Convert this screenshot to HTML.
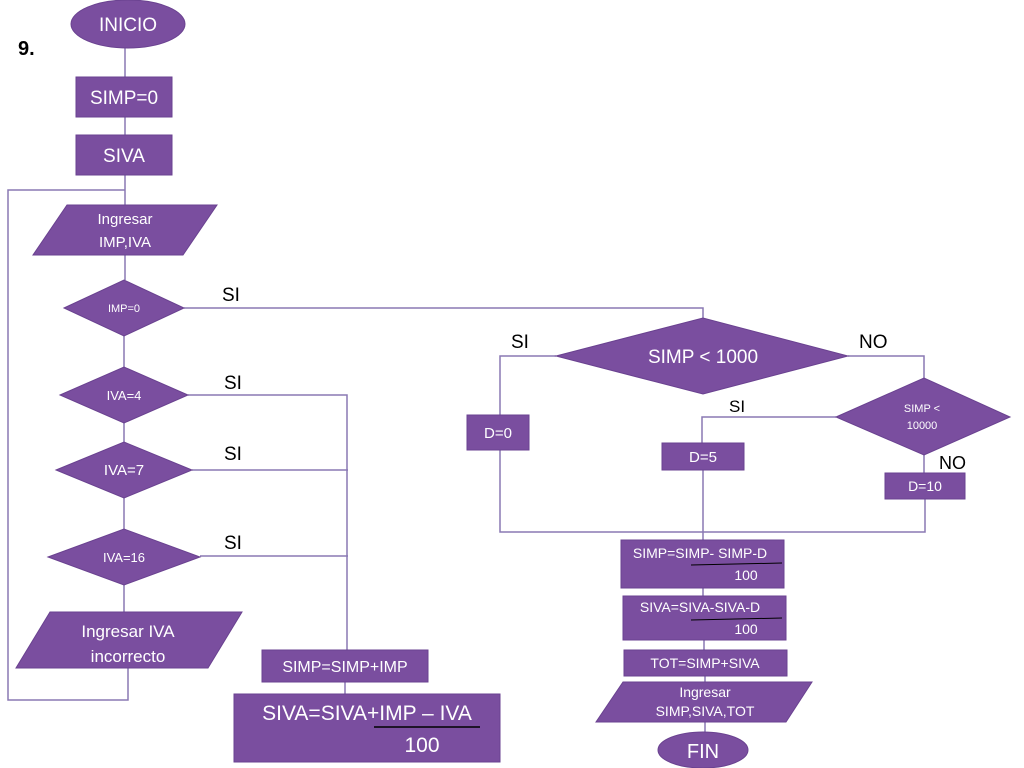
<!DOCTYPE html>
<html><head><meta charset="utf-8"><style>
html,body{margin:0;padding:0;background:#fff;}
svg{display:block;font-family:"Liberation Sans",sans-serif;}
.s{fill:#7a4e9f;stroke:#6a4290;stroke-width:1;}
.l{stroke:#8a79b4;stroke-width:1.5;fill:none;}
.w{fill:#fff;text-anchor:middle;}
.k{fill:#000;}
</style></head><body>
<svg width="1024" height="768" viewBox="0 0 1024 768">
<!-- connectors -->
<path class="l" d="M125 48V205M125 255V280M124 336V367M124 423V442M124 498V529M124 585V612"/>
<path class="l" d="M125 190H8V700H128V668"/>
<path class="l" d="M184 308H703V318"/>
<path class="l" d="M188 395H347V650M192 470H348M200 556H348"/>
<path class="l" d="M345 682V694"/>
<path class="l" d="M556 356H500V532H925V499"/>
<path class="l" d="M848 356H924V378"/>
<path class="l" d="M836 417H702V443M703 470V540M924 455V473"/>
<path class="l" d="M703 588V596M704 640V650M705 676V682M705 722V732"/>
<!-- left -->
<ellipse class="s" cx="128" cy="24" rx="57" ry="24"/>
<text class="w" x="128" y="31" font-size="19">INICIO</text>
<text class="k" x="18" y="55" font-size="20" font-weight="bold">9.</text>
<rect class="s" x="76" y="77" width="96" height="40"/>
<text class="w" x="124" y="104" font-size="19">SIMP=0</text>
<rect class="s" x="76" y="135" width="96" height="40"/>
<text class="w" x="124" y="162" font-size="19">SIVA</text>
<polygon class="s" points="67,205 217,205 183,255 33,255"/>
<text class="w" x="125" y="224" font-size="15">Ingresar</text>
<text class="w" x="125" y="247" font-size="15">IMP,IVA</text>
<polygon class="s" points="64,308 124,280 184,308 124,336"/>
<text class="w" x="124" y="312" font-size="11">IMP=0</text>
<text class="k" x="222" y="301" font-size="19">SI</text>
<polygon class="s" points="60,395 124,367 188,395 124,423"/>
<text class="w" x="124" y="400" font-size="13">IVA=4</text>
<text class="k" x="224" y="389" font-size="19">SI</text>
<polygon class="s" points="56,470 124,442 192,470 124,498"/>
<text class="w" x="124" y="475" font-size="15">IVA=7</text>
<text class="k" x="224" y="460" font-size="19">SI</text>
<polygon class="s" points="48,557 124,529 200,557 124,585"/>
<text class="w" x="124" y="562" font-size="13">IVA=16</text>
<text class="k" x="224" y="549" font-size="19">SI</text>
<polygon class="s" points="50,612 242,612 208,668 16,668"/>
<text class="w" x="128" y="637" font-size="17">Ingresar IVA</text>
<text class="w" x="128" y="662" font-size="17">incorrecto</text>
<rect class="s" x="262" y="650" width="166" height="32"/>
<text class="w" x="345" y="672" font-size="16">SIMP=SIMP+IMP</text>
<rect class="s" x="234" y="694" width="266" height="68"/>
<text class="w" x="367" y="720" font-size="21">SIVA=SIVA+IMP – IVA</text>
<line x1="374" y1="727" x2="480" y2="727" stroke="#000" stroke-width="1.5"/>
<text class="w" x="422" y="752" font-size="21">100</text>
<!-- right -->
<polygon class="s" points="556,356 703,318 848,356 703,394"/>
<text class="w" x="703" y="363" font-size="19">SIMP &lt; 1000</text>
<text class="k" x="511" y="348" font-size="19">SI</text>
<text class="k" x="859" y="348" font-size="19">NO</text>
<rect class="s" x="467" y="415" width="62" height="35"/>
<text class="w" x="498" y="438" font-size="15">D=0</text>
<polygon class="s" points="836,417 924,378 1010,417 924,455"/>
<text class="w" x="922" y="412" font-size="11">SIMP &lt;</text>
<text class="w" x="922" y="429" font-size="11">10000</text>
<text class="k" x="729" y="412" font-size="17">SI</text>
<rect class="s" x="662" y="443" width="82" height="27"/>
<text class="w" x="703" y="462" font-size="15">D=5</text>
<text class="k" x="939" y="469" font-size="18">NO</text>
<rect class="s" x="885" y="473" width="80" height="26"/>
<text class="w" x="925" y="491" font-size="14">D=10</text>
<rect class="s" x="621" y="540" width="163" height="48"/>
<text class="w" x="700" y="558" font-size="14">SIMP=SIMP- SIMP-D</text>
<line x1="691" y1="565" x2="782" y2="563" stroke="#000" stroke-width="1"/>
<text class="w" x="746" y="580" font-size="14">100</text>
<rect class="s" x="623" y="596" width="163" height="44"/>
<text class="w" x="700" y="612" font-size="14">SIVA=SIVA-SIVA-D</text>
<line x1="691" y1="620" x2="782" y2="618" stroke="#000" stroke-width="1"/>
<text class="w" x="746" y="634" font-size="14">100</text>
<rect class="s" x="624" y="650" width="163" height="26"/>
<text class="w" x="705" y="668" font-size="14">TOT=SIMP+SIVA</text>
<polygon class="s" points="623,682 812,682 786,722 596,722"/>
<text class="w" x="705" y="697" font-size="14">Ingresar</text>
<text class="w" x="705" y="716" font-size="14">SIMP,SIVA,TOT</text>
<ellipse class="s" cx="703" cy="750" rx="45" ry="18"/>
<text class="w" x="703" y="758" font-size="20">FIN</text>
</svg>
</body></html>
